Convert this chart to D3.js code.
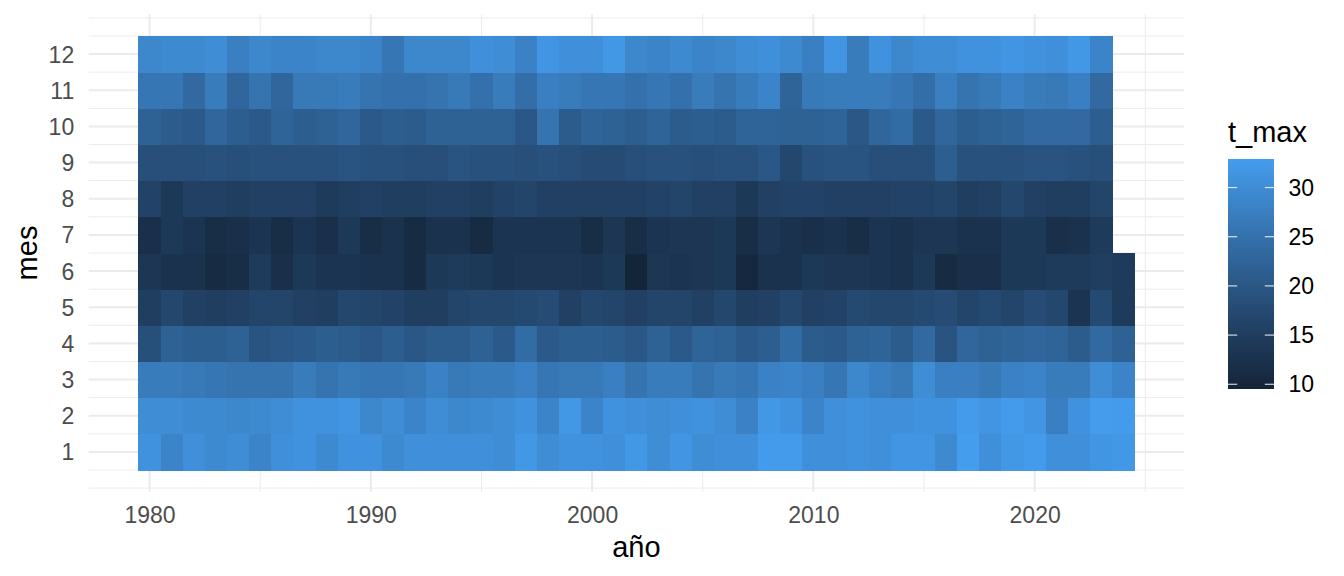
<!DOCTYPE html>
<html>
<head>
<meta charset="utf-8">
<script src="https://cdn.jsdelivr.net/npm/d3@7"></script>
<style>
  html, body { margin: 0; padding: 0; background: #ffffff; }
  svg { display: block; }
  text { font-family: "Liberation Sans", Arial, Helvetica, sans-serif; }
</style>
</head>
<body>
<svg id="chart" width="1344" height="576"></svg>
<script>
// ---- data -------------------------------------------------------------
const years = [1980,1981,1982,1983,1984,1985,1986,1987,1988,1989,1990,1991,1992,1993,1994,
  1995,1996,1997,1998,1999,2000,2001,2002,2003,2004,2005,2006,2007,2008,2009,2010,2011,2012,
  2013,2014,2015,2016,2017,2018,2019,2020,2021,2022,2023,2024];
const months = [1,2,3,4,5,6,7,8,9,10,11,12];

// t_max values by month, one entry per year starting 1980
const m01 = [31,28.5,30.5,29.5,30,28.5,30.5,31,29.5,31,31,29.5,30.5,30.5,30.5,30.5,30,32,30,31,31,30.5,
  32,30,31.5,30,30.5,30.5,32.5,32.5,30.5,30.5,31,30.5,31.5,31.5,29.5,32.9,30.5,32,32.5,30.5,30.5,31.5,32];
const m02 = [30,30,29.5,29.5,29,29.5,30,31,31,31.5,29,30,28.5,30,29,29.5,30,31,28.5,32,28.5,31,
  30.5,30,30.5,31,30,28,32,31,28.5,30.5,31,30.5,30.5,31,31,32.5,31.5,32.5,31.5,27.5,31,32.7,32.5];
const m03 = [27,27,26.5,26,25.5,25.5,25.5,27,25.5,26.5,26,26,26.5,28,26.5,27,27,28,26,26.5,26.5,27.5,
  25.5,27,27,25.5,26.5,26,28,28.5,27.5,26,29,27.5,26.5,30,27.5,27.5,26.5,28,28.5,27,27,30,28.5];
const m04 = [18.5,22,21.5,21.5,22,19.5,20,20.5,21.5,21,20,21.5,20,21,21,22,20.5,24,20.5,21.5,21.5,21,
  20,22,20.5,22.5,22,20.5,21.5,24,21,20.5,22,22.5,21,23.5,19.5,23,22,22.5,23,22.5,21,23.5,22];
const m05 = [15,17,15.5,15,15.5,16.5,16.5,15.5,15,17,16.5,16,15,15,16.5,17,17,17.5,18,15.5,17,16.5,
  15.5,16.5,16.5,15.5,17,15,15.5,17,15.5,16,17.5,17,17,17.5,18,16.5,17.5,16.5,18,17,13,17.5,14.5];
const m06 = [13.5,12.5,12.5,11,11.5,14.5,12,14,13,13,12.5,12.5,11,14,14.5,14,13,13.5,13.5,13.5,13,14,
  9.52,13.5,13,13.5,14,10.5,12.5,12.5,14,13.5,13.5,13,12.5,14,11,12,12,14,14,14.5,14.5,15,14.5];
const m07 = [12,14,13,11.5,12,13,11.5,13,12,14,11.5,12.5,11,12.5,12.5,11,13,13,13,13,11.5,13.5,
  11.5,13,13.5,13.5,14,11.5,13.5,12.5,12,12.5,11.5,13,12.5,13.5,13.5,12.5,12.5,14,14,12,12.5,14.5];
const m08 = [16,14,15.5,15.5,15,15.5,15.5,15.5,14.5,15,15.5,15,15,15.5,15.5,15,16,16.5,15.5,15.5,15.5,15.5,
  15.5,16,16.5,15.5,15.5,14,15.5,16,16,15.5,15.5,15.5,16,16,16.5,15,15.5,17,15.5,15,15,16.5];
const m09 = [18.5,18.5,18.5,19,18.5,19,19,19,19,19.5,19,19,18.5,18.5,19.5,19,19,18.5,19,18.5,18,18,
  18.5,19,19,18.5,19,19,20,17,19,19.5,19.5,18.5,18.5,18.5,21.5,19,19,19,19.5,19.5,19,18.5];
const m10 = [22,21,20.5,23,21.5,20.5,22.5,21.5,22,23,20.5,21.5,21,22,22,22,22,20,25.5,21,22.5,22,
  21.5,22.5,21,21.5,21,22.5,22.5,22,22,22.5,20,23,24,20.5,23,21.5,22,22.5,23.5,23.5,23.5,21.5];
const m11 = [26,26,23.5,27,23,25.5,23,26.5,26.5,27,25.5,25,25,25.5,26.5,25,27,24.5,27.5,27,26,26,
  25,26,25,27,25.5,27,28.5,22.5,26.5,27,27,27,26,24.5,27.5,25.5,26.5,28,27,26.5,27.5,23.5];
const m12 = [29,29.5,29.5,30,27.5,29,28.5,28.5,29,29,28.5,26,29,29,29,30.5,30,28,31.5,30.5,30.5,32,
  29,28.5,29.5,28.5,29,30,30.5,29.5,27.5,31.5,27,31,29,30,30,31,31,31.5,31,30.5,32,28.5];

const xBreaks = [1980,1990,2000,2010,2020];
const xMinor = [1985,1995,2005,2015,2025];
const yMinor = [0,0.5,1.5,2.5,3.5,4.5,5.5,6.5,7.5,8.5,9.5,10.5,11.5,12.5,13];
const legendBreaks = [10,15,20,25,30];
const xTitle = "año", yTitle = "mes", legendTitle = "t_max";

// ---- build cell table ------------------------------------------------
const byMonth = [m01,m02,m03,m04,m05,m06,m07,m08,m09,m10,m11,m12];
const cells = [];
byMonth.forEach((arr, mi) => {
  arr.forEach((v, yi) => cells.push({year: years[yi], month: months[mi], value: v}));
});

// ---- scales ----------------------------------------------------------
const svg = d3.select("#chart");
const panel = {left: 88.7, right: 1184, top: 14.3, bottom: 491.7};

const yearExt = d3.extent(years);
const xPad = (yearExt[1] - yearExt[0] + 1) * 0.05;
const x = d3.scaleLinear()
  .domain([yearExt[0] - 0.5 - xPad, yearExt[1] + 0.5 + xPad])
  .range([panel.left, panel.right]);
const yPad = 12 * 0.05;
const y = d3.scaleLinear()
  .domain([0.5 - yPad, 12.5 + yPad])
  .range([panel.bottom, panel.top]);

const vExt = d3.extent(cells, d => d.value);
const color = d3.scaleLinear()
  .domain(vExt)
  .range(["#142439", "#459DEE"])
  .interpolate(d3.interpolateLab);

// ---- grid ------------------------------------------------------------
const grid = svg.append("g");
grid.selectAll("line.ymin").data(yMinor).join("line")
  .attr("x1", panel.left).attr("x2", panel.right)
  .attr("y1", d => y(d)).attr("y2", d => y(d))
  .attr("stroke", "#EBEBEB").attr("stroke-width", 1);
grid.selectAll("line.xmin").data(xMinor).join("line")
  .attr("y1", panel.top).attr("y2", panel.bottom)
  .attr("x1", d => x(d)).attr("x2", d => x(d))
  .attr("stroke", "#EBEBEB").attr("stroke-width", 1);
grid.selectAll("line.ymaj").data(months).join("line")
  .attr("x1", panel.left).attr("x2", panel.right)
  .attr("y1", d => y(d)).attr("y2", d => y(d))
  .attr("stroke", "#EBEBEB").attr("stroke-width", 2);
grid.selectAll("line.xmaj").data(xBreaks).join("line")
  .attr("y1", panel.top).attr("y2", panel.bottom)
  .attr("x1", d => x(d)).attr("x2", d => x(d))
  .attr("stroke", "#EBEBEB").attr("stroke-width", 2);

// ---- tiles -----------------------------------------------------------
svg.append("g").attr("shape-rendering", "crispEdges")
  .selectAll("rect").data(cells).join("rect")
  .attr("x", d => x(d.year - 0.5))
  .attr("width", d => x(d.year + 0.5) - x(d.year - 0.5) + 0.5)
  .attr("y", d => y(d.month + 0.5))
  .attr("height", d => y(d.month - 0.5) - y(d.month + 0.5) + 0.5)
  .attr("fill", d => color(d.value));

// ---- axes ------------------------------------------------------------
const xAxis = d3.axisBottom(x).tickValues(xBreaks).tickFormat(d3.format("d")).tickSize(0).tickPadding(0);
const gx = svg.append("g").attr("transform", `translate(0,${panel.bottom})`).call(xAxis);
gx.select(".domain").remove();
gx.selectAll("text").attr("y", 31).attr("dy", 0)
  .attr("font-size", 23).attr("fill", "#4D4D4D")
  .style("font-family", '"Liberation Sans", Arial, sans-serif');

const yAxis = d3.axisLeft(y).tickValues(months).tickSize(0).tickPadding(0);
const gy = svg.append("g").attr("transform", `translate(${panel.left},0)`).call(yAxis);
gy.select(".domain").remove();
gy.selectAll("text").attr("x", -14.5).attr("dy", "0.35em")
  .attr("font-size", 23).attr("fill", "#4D4D4D")
  .style("font-family", '"Liberation Sans", Arial, sans-serif');

svg.append("text")
  .attr("x", (panel.left + panel.right) / 2).attr("y", 557)
  .attr("text-anchor", "middle").attr("font-size", 29).attr("fill", "#000")
  .text(xTitle);
svg.append("text")
  .attr("transform", `translate(37,${(panel.top + panel.bottom) / 2}) rotate(-90)`)
  .attr("text-anchor", "middle").attr("font-size", 29).attr("fill", "#000")
  .text(yTitle);

// ---- legend ----------------------------------------------------------
const leg = {x: 1228, w: 46, top: 159, bottom: 389};
const ly = d3.scaleLinear().domain(vExt).range([leg.bottom, leg.top]);
const defs = svg.append("defs");
const grad = defs.append("linearGradient").attr("id", "lg")
  .attr("x1", 0).attr("y1", 1).attr("x2", 0).attr("y2", 0);
d3.range(0, 1.0001, 0.02).forEach(t => {
  grad.append("stop").attr("offset", t)
    .attr("stop-color", color(vExt[0] + t * (vExt[1] - vExt[0])));
});
svg.append("rect").attr("x", leg.x).attr("y", leg.top)
  .attr("width", leg.w).attr("height", leg.bottom - leg.top)
  .attr("fill", "url(#lg)");
const tl = leg.w / 5;
const lt = svg.append("g");
legendBreaks.forEach(b => {
  lt.append("line").attr("x1", leg.x).attr("x2", leg.x + tl)
    .attr("y1", ly(b)).attr("y2", ly(b)).attr("stroke", "#fff").attr("stroke-width", 1.2).attr("opacity", 0.8);
  lt.append("line").attr("x1", leg.x + leg.w - tl).attr("x2", leg.x + leg.w)
    .attr("y1", ly(b)).attr("y2", ly(b)).attr("stroke", "#fff").attr("stroke-width", 1.2).attr("opacity", 0.8);
});
svg.append("g").selectAll("text").data(legendBreaks).join("text")
  .attr("x", 1288.5).attr("y", d => ly(d)).attr("dy", "0.35em")
  .attr("font-size", 23).attr("fill", "#000")
  .text(d => d);
svg.append("text").attr("x", 1228).attr("y", 141.7)
  .attr("font-size", 29).attr("fill", "#000").text(legendTitle);
</script>
</body>
</html>
